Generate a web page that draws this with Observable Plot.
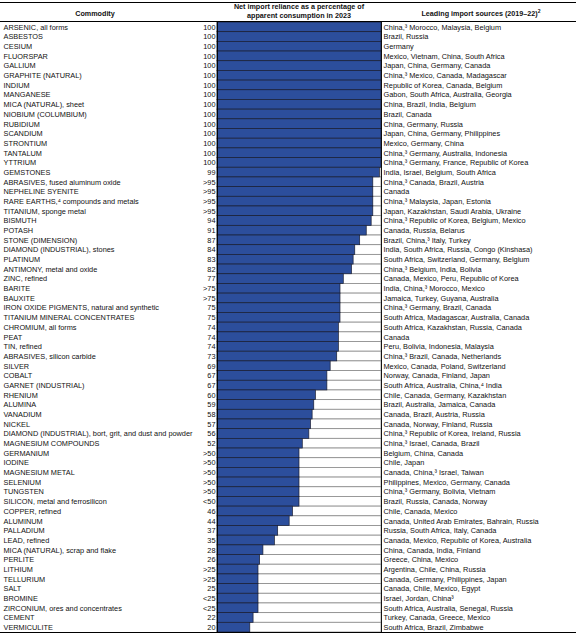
<!DOCTYPE html>
<html>
<head>
<meta charset="utf-8">
<script src="https://cdn.jsdelivr.net/npm/d3@7"></script>
<script src="https://cdn.jsdelivr.net/npm/@observablehq/plot@0.6"></script>
<style>
  body { margin: 0; background: white; font-family: "Liberation Sans", Arial, sans-serif; }
  #wrap { position: relative; width: 576px; }
  #head { position: relative; height: 21px; border-top: 1px solid black; border-bottom: 1px solid black; box-sizing: border-box; margin-top: 2px; height: 20px; }
  #head div { position: absolute; font-weight: bold; font-size: 7.2px; line-height: 8.6px; text-align: center; transform: translateX(-50%); white-space: nowrap; color: #111; }
  #chart svg { display: block; }
</style>
</head>
<body>
<div id="wrap">
  <div id="head">
    <div style="left:95px; top:7px;">Commodity</div>
    <div style="left:299px; top:0px;">Net import reliance as a percentage of<br>apparent consumption in 2023</div>
    <div style="left:481px; top:7px;">Leading import sources (2019–22)<sup style="font-size:5px;vertical-align:3px;line-height:0">2</sup></div>
  </div>
  <div id="chart"></div>
</div>
<script>
/* global d3, Plot */

// Commodities, top to bottom
const commodities = [
  'ARSENIC, all forms', 'ASBESTOS', 'CESIUM', 'FLUORSPAR', 'GALLIUM',
  'GRAPHITE (NATURAL)', 'INDIUM', 'MANGANESE', 'MICA (NATURAL), sheet', 'NIOBIUM (COLUMBIUM)',
  'RUBIDIUM', 'SCANDIUM', 'STRONTIUM', 'TANTALUM', 'YTTRIUM',
  'GEMSTONES', 'ABRASIVES, fused aluminum oxide', 'NEPHELINE SYENITE', 'RARE EARTHS,⁴ compounds and metals', 'TITANIUM, sponge metal',
  'BISMUTH', 'POTASH', 'STONE (DIMENSION)', 'DIAMOND (INDUSTRIAL), stones', 'PLATINUM',
  'ANTIMONY, metal and oxide', 'ZINC, refined', 'BARITE', 'BAUXITE', 'IRON OXIDE PIGMENTS, natural and synthetic',
  'TITANIUM MINERAL CONCENTRATES', 'CHROMIUM, all forms', 'PEAT', 'TIN, refined', 'ABRASIVES, silicon carbide',
  'SILVER', 'COBALT', 'GARNET (INDUSTRIAL)', 'RHENIUM', 'ALUMINA',
  'VANADIUM', 'NICKEL', 'DIAMOND (INDUSTRIAL), bort, grit, and dust and powder', 'MAGNESIUM COMPOUNDS', 'GERMANIUM',
  'IODINE', 'MAGNESIUM METAL', 'SELENIUM', 'TUNGSTEN', 'SILICON, metal and ferrosilicon',
  'COPPER, refined', 'ALUMINUM', 'PALLADIUM', 'LEAD, refined', 'MICA (NATURAL), scrap and flake',
  'PERLITE', 'LITHIUM', 'TELLURIUM', 'SALT', 'BROMINE',
  'ZIRCONIUM, ores and concentrates', 'CEMENT', 'VERMICULITE'
];

// Net import reliance, percent (bar length)
const reliance = [
  100, 100, 100, 100, 100,
  100, 100, 100, 100, 100,
  100, 100, 100, 100, 100,
  99, 95, 95, 95, 95,
  94, 91, 87, 84, 83,
  82, 77, 75, 75, 75,
  75, 74, 74, 74, 73,
  69, 67, 67, 60, 59,
  58, 57, 56, 52, 50,
  50, 50, 50, 50, 50,
  46, 44, 37, 35, 28,
  26, 25, 25, 25, 25,
  25, 22, 20
];

// Printed value labels
const relianceLabels = [
  '100', '100', '100', '100', '100',
  '100', '100', '100', '100', '100',
  '100', '100', '100', '100', '100',
  '99', '>95', '>95', '>95', '>95',
  '94', '91', '87', '84', '83',
  '82', '77', '>75', '>75', '75',
  '75', '74', '74', '74', '73',
  '69', '67', '67', '60', '59',
  '58', '57', '56', '52', '>50',
  '>50', '>50', '>50', '>50', '<50',
  '46', '44', '37', '35', '28',
  '26', '>25', '>25', '25', '<25',
  '<25', '22', '20'
];

// Leading import sources (2019–22)
const sources = [
  'China,³ Morocco, Malaysia, Belgium', 'Brazil, Russia', 'Germany', 'Mexico, Vietnam, China, South Africa', 'Japan, China, Germany, Canada',
  'China,³ Mexico, Canada, Madagascar', 'Republic of Korea, Canada, Belgium', 'Gabon, South Africa, Australia, Georgia', 'China, Brazil, India, Belgium', 'Brazil, Canada',
  'China, Germany, Russia', 'Japan, China, Germany, Philippines', 'Mexico, Germany, China', 'China,³ Germany, Australia, Indonesia', 'China,³ Germany, France, Republic of Korea',
  'India, Israel, Belgium, South Africa', 'China,³ Canada, Brazil, Austria', 'Canada', 'China,³ Malaysia, Japan, Estonia', 'Japan, Kazakhstan, Saudi Arabia, Ukraine',
  'China,³ Republic of Korea, Belgium, Mexico', 'Canada, Russia, Belarus', 'Brazil, China,³ Italy, Turkey', 'India, South Africa, Russia, Congo (Kinshasa)', 'South Africa, Switzerland, Germany, Belgium',
  'China,³ Belgium, India, Bolivia', 'Canada, Mexico, Peru, Republic of Korea', 'India, China,³ Morocco, Mexico', 'Jamaica, Turkey, Guyana, Australia', 'China,³ Germany, Brazil, Canada',
  'South Africa, Madagascar, Australia, Canada', 'South Africa, Kazakhstan, Russia, Canada', 'Canada', 'Peru, Bolivia, Indonesia, Malaysia', 'China,³ Brazil, Canada, Netherlands',
  'Mexico, Canada, Poland, Switzerland', 'Norway, Canada, Finland, Japan', 'South Africa, Australia, China,⁴ India', 'Chile, Canada, Germany, Kazakhstan', 'Brazil, Australia, Jamaica, Canada',
  'Canada, Brazil, Austria, Russia', 'Canada, Norway, Finland, Russia', 'China,³ Republic of Korea, Ireland, Russia', 'China,³ Israel, Canada, Brazil', 'Belgium, China, Canada',
  'Chile, Japan', 'Canada, China,³ Israel, Taiwan', 'Philippines, Mexico, Germany, Canada', 'China,³ Germany, Bolivia, Vietnam', 'Brazil, Russia, Canada, Norway',
  'Chile, Canada, Mexico', 'Canada, United Arab Emirates, Bahrain, Russia', 'Russia, South Africa, Italy, Canada', 'Canada, Mexico, Republic of Korea, Australia', 'China, Canada, India, Finland',
  'Greece, China, Mexico', 'Argentina, Chile, China, Russia', 'Canada, Germany, Philippines, Japan', 'Canada, Chile, Mexico, Egypt', 'Israel, Jordan, China³',
  'South Africa, Australia, Senegal, Russia', 'Turkey, Canada, Greece, Mexico', 'South Africa, Brazil, Zimbabwe'
];

const rows = commodities.map((name, i) => ({
  name,
  value: reliance[i],
  label: relianceLabels[i],
  source: sources[i]
}));

const chart = Plot.plot({
  width: 576,
  height: 612,
  marginTop: 0,
  marginBottom: 2,
  marginLeft: 0,
  marginRight: 0,
  style: { fontFamily: '"Liberation Sans", Arial, sans-serif', fontSize: '7.35px', background: 'white', color: '#111' },
  x: { domain: [0, 100], range: [217, 381], axis: null },
  y: { domain: commodities, padding: 0, axis: null },
  marks: [
    // white backdrop rows with gray separators
    Plot.barX(rows, { x1: 0, x2: 100, y: 'name', fill: 'white', stroke: '#8a8a8a', strokeWidth: 0.8 }),
    Plot.barX(rows, { x: 'value', y: 'name', fill: '#2c4e9c', stroke: '#1a1f33', strokeWidth: 0.7 }),
    Plot.ruleX([0, 100], { stroke: 'black', strokeWidth: 0.9 }),
    Plot.text(rows, { y: 'name', text: 'name', frameAnchor: 'left', dx: 3, textAnchor: 'start', fill: '#111' }),
    Plot.text(rows, { x: 0, y: 'name', text: 'label', textAnchor: 'end', dx: -2, fill: '#111' }),
    Plot.text(rows, { x: 100, y: 'name', text: 'source', textAnchor: 'start', dx: 2, fill: '#111' }),
    Plot.frame({ anchor: 'bottom', stroke: 'black' })
  ]
});
document.getElementById('chart').append(chart);
</script>
</body>
</html>
